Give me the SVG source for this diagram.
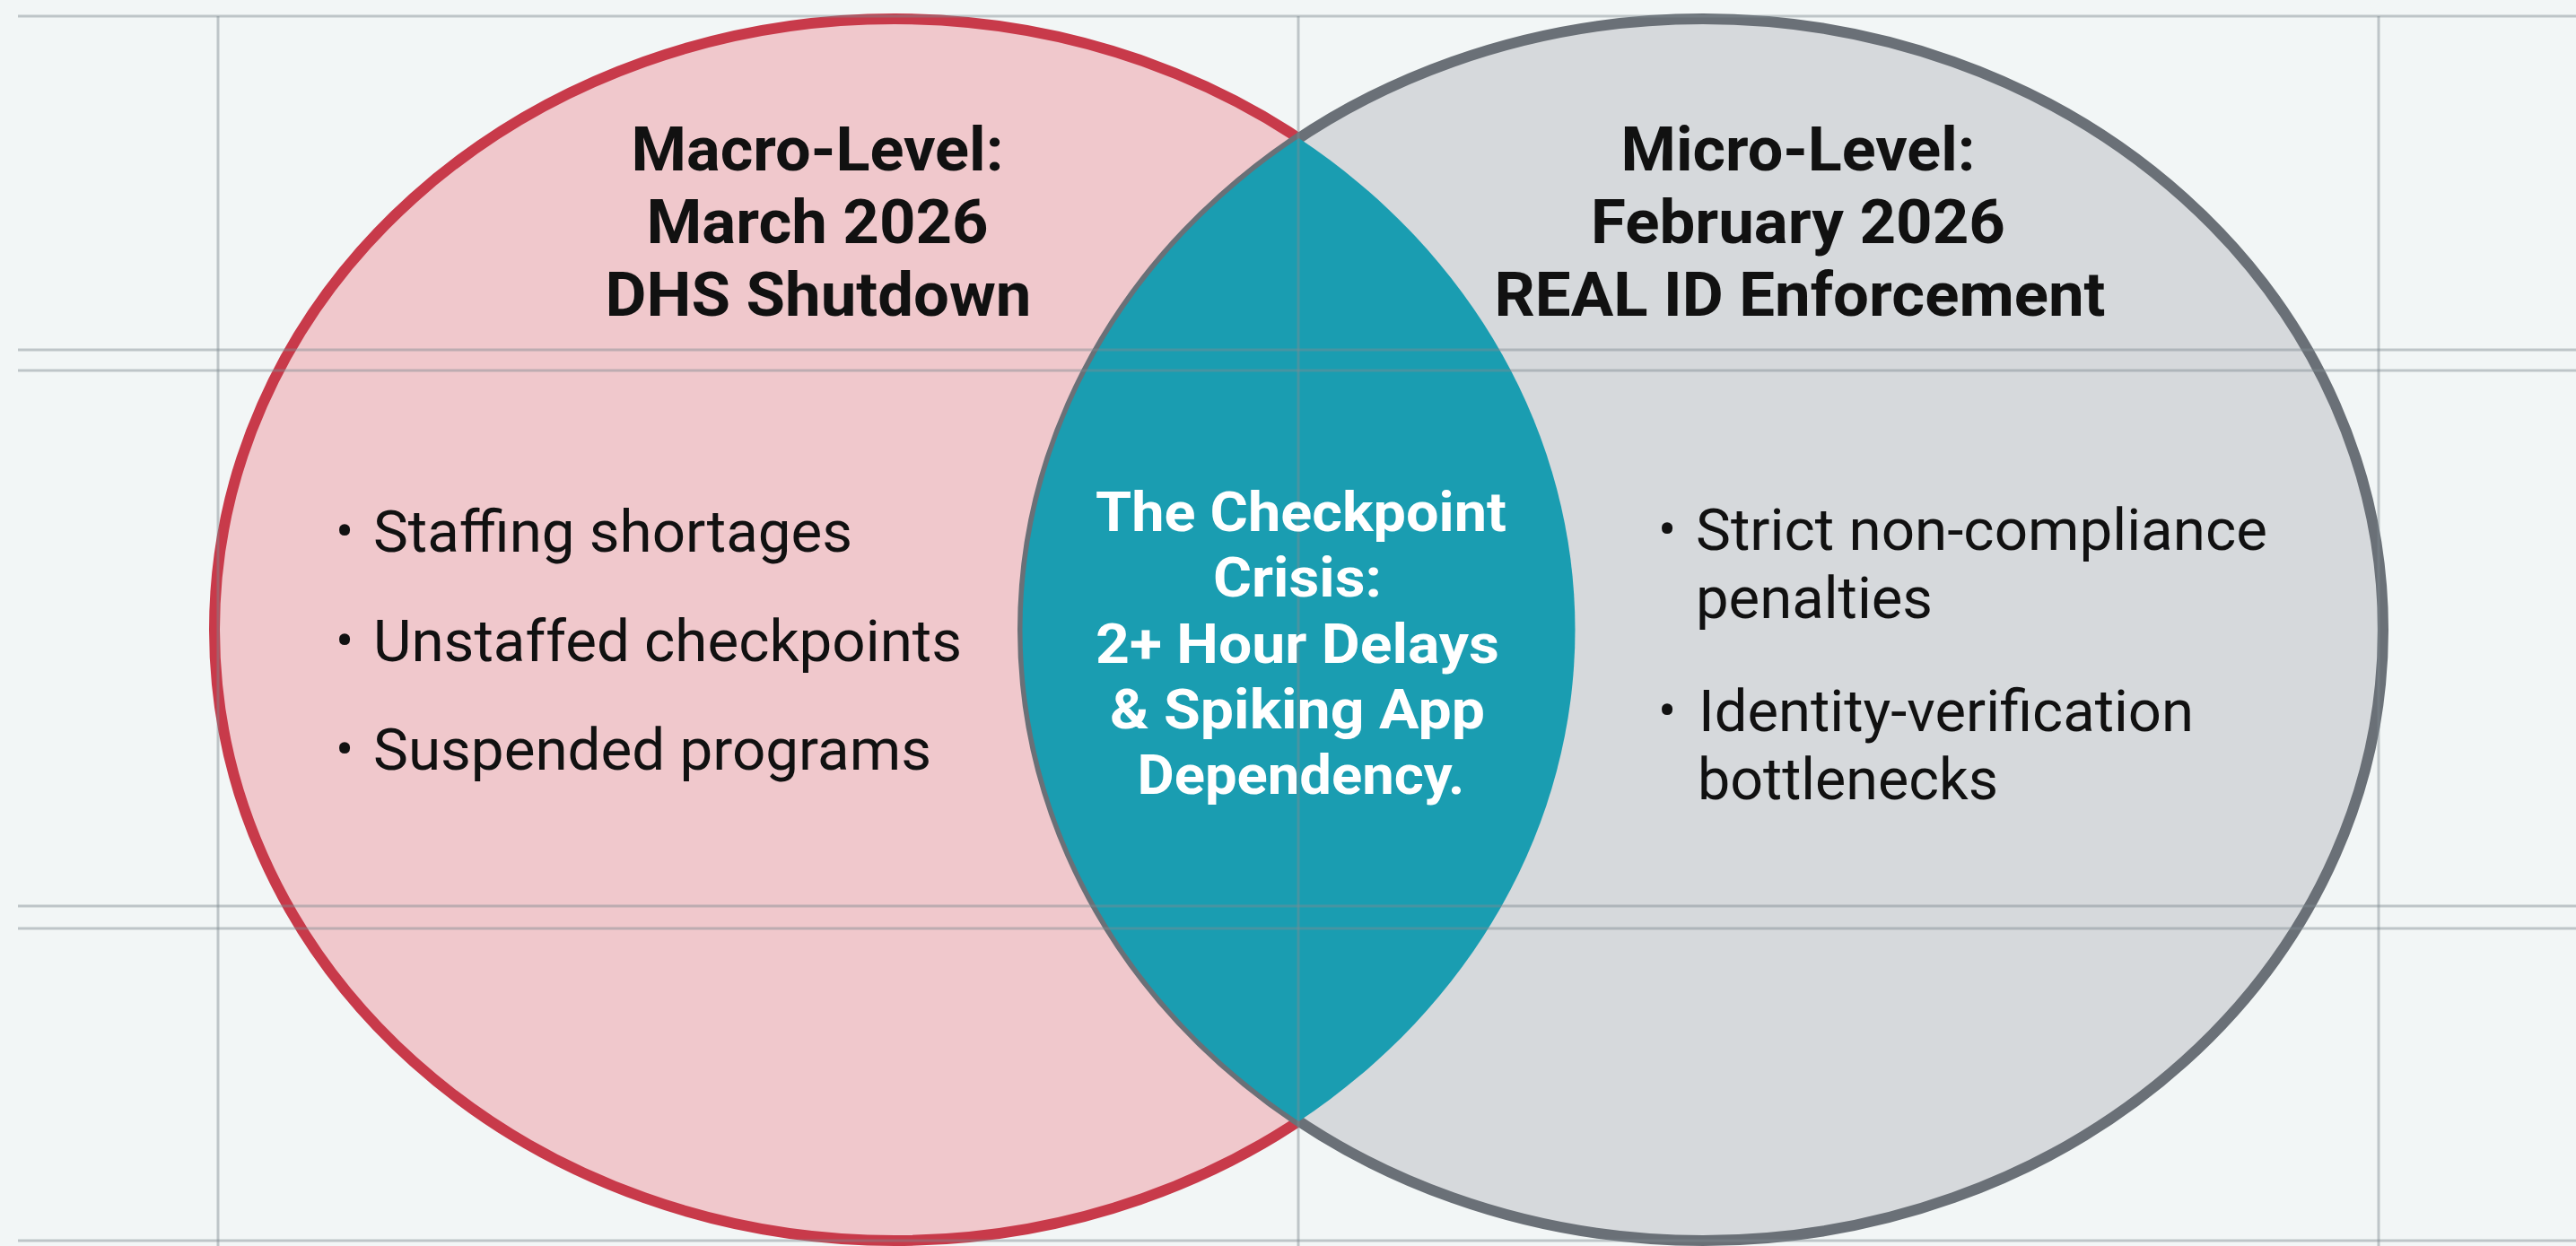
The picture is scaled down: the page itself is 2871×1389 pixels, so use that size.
<svg xmlns="http://www.w3.org/2000/svg" width="2871" height="1389" viewBox="0 0 2871 1389">
  <style>
    .grid { stroke: #7f8a90; stroke-opacity: 0.45; stroke-width: 3; fill: none; }
    .title { font-family: Roboto, "Liberation Sans", sans-serif; font-weight: 700; font-size: 69px; fill: #111111; text-anchor: middle; }
    .center { font-family: Roboto, "Liberation Sans", sans-serif; font-weight: 700; font-size: 62px; fill: #ffffff; text-anchor: middle; }
    .item { font-family: Roboto, "Liberation Sans", sans-serif; font-weight: 400; font-size: 64px; fill: #111111; }
    .dot { font-family: Roboto, "Liberation Sans", sans-serif; font-weight: 400; font-size: 60px; fill: #111111; text-anchor: middle; }
  </style>
  <rect x="0" y="0" width="2871" height="1389" fill="#f2f6f6"/>

  <g id="node-macro">
    <ellipse cx="997" cy="702" rx="758" ry="681" fill="#f0c8cc" stroke="#c83a4a" stroke-width="12"/>
  </g>
  <g id="node-micro">
    <ellipse cx="1898" cy="702" rx="758" ry="681" fill="#d6d9dc" stroke="#6a7077" stroke-width="12"/>
  </g>
  <g id="node-overlap">
    <path d="M1447.5,154 A758,681 0 0,0 1447.5,1250 A758,681 0 0,0 1447.5,154 Z" fill="#1a9db1"/>
  </g>

  <g id="grid">
    <line class="grid" x1="20" y1="18" x2="2871" y2="18"/>
    <line class="grid" x1="20" y1="390" x2="2871" y2="390"/>
    <line class="grid" x1="20" y1="413" x2="2871" y2="413"/>
    <line class="grid" x1="20" y1="1010" x2="2871" y2="1010"/>
    <line class="grid" x1="20" y1="1035" x2="2871" y2="1035"/>
    <line class="grid" x1="20" y1="1383" x2="2871" y2="1383"/>
    <line class="grid" x1="243" y1="18" x2="243" y2="1389"/>
    <line class="grid" x1="1447" y1="18" x2="1447" y2="1389"/>
    <line class="grid" x1="2651" y1="18" x2="2651" y2="1389"/>
  </g>

  <g id="connectors"></g>

  <g id="label-macro">
    <text class="title"><tspan x="911" y="190" textLength="415" lengthAdjust="spacingAndGlyphs">Macro-Level:</tspan><tspan x="911" y="271" textLength="381" lengthAdjust="spacingAndGlyphs">March 2026</tspan><tspan x="912" y="352" textLength="475" lengthAdjust="spacingAndGlyphs">DHS Shutdown</tspan></text>
    <text class="dot" x="384" y="613">•</text>
    <text class="item" x="416" y="615" textLength="534" lengthAdjust="spacingAndGlyphs">Staffing shortages</text>
    <text class="dot" x="384" y="735">•</text>
    <text class="item" x="416" y="737" textLength="656" lengthAdjust="spacingAndGlyphs">Unstaffed checkpoints</text>
    <text class="dot" x="384" y="856">•</text>
    <text class="item" x="416" y="858" textLength="622" lengthAdjust="spacingAndGlyphs">Suspended programs</text>
  </g>

  <g id="label-micro">
    <text class="title"><tspan x="2004" y="190" textLength="395" lengthAdjust="spacingAndGlyphs">Micro-Level:</tspan><tspan x="2004" y="271" textLength="462" lengthAdjust="spacingAndGlyphs">February 2026</tspan><tspan x="2006" y="352" textLength="681" lengthAdjust="spacingAndGlyphs">REAL ID Enforcement</tspan></text>
    <text class="dot" x="1858" y="611">•</text>
    <text class="item"><tspan x="1890" y="613" textLength="637" lengthAdjust="spacingAndGlyphs">Strict non-compliance</tspan><tspan x="1890" y="689" textLength="264" lengthAdjust="spacingAndGlyphs">penalties</tspan></text>
    <text class="dot" x="1858" y="813">•</text>
    <text class="item"><tspan x="1893" y="815" textLength="552" lengthAdjust="spacingAndGlyphs">Identity-verification</tspan><tspan x="1892" y="891" textLength="335" lengthAdjust="spacingAndGlyphs">bottlenecks</tspan></text>
  </g>

  <g id="label-overlap">
    <text class="center"><tspan x="1450" y="592" textLength="458" lengthAdjust="spacingAndGlyphs">The Checkpoint</tspan><tspan x="1446" y="665" textLength="188" lengthAdjust="spacingAndGlyphs">Crisis:</tspan><tspan x="1446" y="739" textLength="450" lengthAdjust="spacingAndGlyphs">2+ Hour Delays</tspan><tspan x="1446" y="812" textLength="418" lengthAdjust="spacingAndGlyphs">&amp; Spiking App</tspan><tspan x="1450" y="885" textLength="365" lengthAdjust="spacingAndGlyphs">Dependency.</tspan></text>
  </g>
</svg>
